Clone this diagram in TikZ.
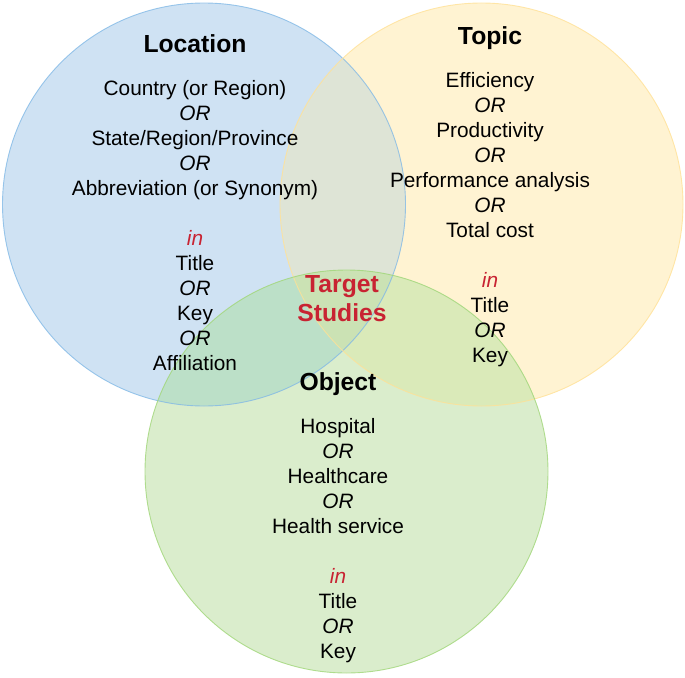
\documentclass[tikz,border=0pt]{standalone}
\usepackage{fontspec}
\setmainfont{Liberation Sans}
\definecolor{bluefill}{RGB}{207,226,243}
\definecolor{yellowfill}{RGB}{255,243,210}
\definecolor{greenfill}{RGB}{218,237,204}
\definecolor{byfill}{RGB}{222,228,214}
\definecolor{bgfill}{RGB}{188,224,200}
\definecolor{ygfill}{RGB}{218,234,185}
\definecolor{byg}{RGB}{203,226,180}
\definecolor{bluedraw}{RGB}{130,185,230}
\definecolor{yellowdraw}{RGB}{255,225,150}
\definecolor{greendraw}{RGB}{160,214,120}
\definecolor{redc}{RGB}{200,35,50}
\newcommand{\ORt}{\textit{OR}}
\newcommand{\INt}{\textcolor{redc}{\textit{in}}}
\begin{document}
\begin{tikzpicture}[x=1pt,y=-1pt,
  circ/.style={circle, minimum size=403pt, inner sep=0pt, line width=0.9pt},
  ttl/.style={font=\fontsize{24.7}{30}\selectfont\bfseries, anchor=base, inner sep=0pt},
  txt/.style={font=\fontsize{20.8}{25}\selectfont, anchor=base, inner sep=0pt},
  red ttl/.style={ttl, text=redc}]
\useasboundingbox (0,0) rectangle (685,677);
\def\R{201.5}
% region fills
\fill[bluefill] (204,204.5) circle (\R);
\fill[yellowfill] (481.5,204.5) circle (\R);
\fill[greenfill] (346.5,471.5) circle (\R);
\begin{scope}
  \clip (481.5,204.5) circle (\R);
  \fill[ygfill] (346.5,471.5) circle (\R);
\end{scope}
\begin{scope}
  \clip (204,204.5) circle (\R);
  \fill[byfill] (481.5,204.5) circle (\R);
  \fill[bgfill] (346.5,471.5) circle (\R);
  \clip (481.5,204.5) circle (\R);
  \fill[byg] (346.5,471.5) circle (\R);
\end{scope}
% circle outlines
\node[circ, draw=bluedraw, draw opacity=0.8] (cloc) at (204,204.5) {};
\node[circ, draw=yellowdraw, draw opacity=0.8] (ctop) at (481.5,204.5) {};
\node[circ, draw=greendraw, draw opacity=0.8] (cobj) at (346.5,471.5) {};
% Location
\node[ttl] (tloc) at (195,52.5) {Location};
\foreach \k/\t in {0/Country (or Region),1/\ORt,2/{State/Region/Province},3/\ORt,4/Abbreviation (or Synonym),6/\INt,7/Title,8/\ORt,9/Key,10/\ORt,11/Affiliation}
  \node[txt] (loc\k) at (195,95.5+25*\k) {\t};
% Topic
\node[ttl] (ttop) at (490,44.5) {Topic};
\foreach \k/\t in {0/Efficiency,1/\ORt,2/Productivity,3/\ORt,4/Performance analysis,5/\ORt,6/Total cost,8/\INt,9/Title,10/\ORt,11/Key}
  \node[txt] (top\k) at (490,87.5+25*\k) {\t};
% Object
\node[ttl] (tobj) at (338,390.5) {Object};
\foreach \k/\t in {0/Hospital,1/\ORt,2/Healthcare,3/\ORt,4/Health service,6/\INt,7/Title,8/\ORt,9/Key}
  \node[txt] (obj\k) at (338,433.5+25*\k) {\t};
% Target
\node[red ttl] (tar1) at (342,292.5) {Target};
\node[red ttl] (tar2) at (342,321.5) {Studies};
\end{tikzpicture}
\end{document}
